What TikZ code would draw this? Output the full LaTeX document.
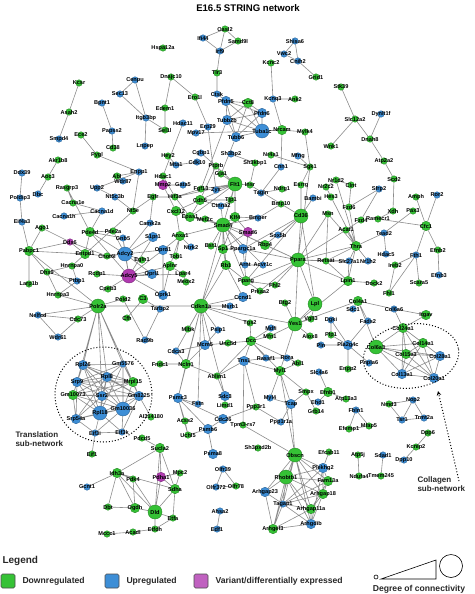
\documentclass[tikz,border=0pt]{standalone}
\usepackage{fontspec}
\setmainfont{Liberation Sans}
\usetikzlibrary{backgrounds}
\definecolor{dngreen}{HTML}{35C235}
\definecolor{upblue}{HTML}{3D8ED6}
\definecolor{varmag}{HTML}{B03AB0}
\definecolor{edgegray}{HTML}{8C8C8C}
\newcommand{\genefont}{\fontsize{5.6}{6}\selectfont\bfseries}
\tikzset{
  gene/.style={circle, inner sep=0pt, minimum size=6.5pt, line width=0.4pt},
  down/.style={gene, fill=dngreen, draw=dngreen!70!black},
  up/.style={gene, fill=upblue, draw=upblue!70!black},
  varx/.style={gene, fill=varmag, draw=varmag!70!black},
  mid/.style={minimum size=9.5pt},
  hub/.style={minimum size=14pt},
  lab/.style={font=\genefont, inner sep=0pt, text=black},
  edge/.style={draw=edgegray, line width=0.6pt},
  subnet/.style={dotted, line width=1pt},
  note/.style={font=\fontsize{8}{9}\selectfont\bfseries, align=left, text=black!85},
  legtext/.style={font=\fontsize{8.6}{9}\selectfont\bfseries, anchor=west, text=black!85},
  legbox/.style={rounded corners=1.5pt, minimum size=14pt, inner sep=0pt, draw=black!70, line width=0.6pt},
}
\begin{document}
\begin{tikzpicture}[x=1pt,y=-1pt]
\useasboundingbox (0,0) rectangle (474,594);
\node[font=\fontsize{9.6}{10}\selectfont\bfseries] (title) at (248,8) {E16.5 STRING network};

% top
\node[down, label={[lab]center:Hspa12a}] (hspa) at (163,48) {};
\node[down, label={[lab]center:Kcsr}] (kcsr) at (79,83) {};
\node[down, label={[lab]center:Asah2}] (asah) at (69,112) {};
\node[up, label={[lab]center:Smpd4}] (smpd) at (59,139) {};
\node[up, label={[lab]center:Cenpu}] (cenpu) at (135,80) {};
\node[up, label={[lab]center:Sec13}] (sec13) at (120,94) {};
\node[up, label={[lab]center:Bpnt1}] (bpnt) at (102,103) {};
\node[up, label={[lab]center:Itgb3bp}] (itgb) at (146,118) {};
\node[up, label={[lab]center:Papss2}] (papss) at (112,131) {};
\node[down, label={[lab]center:Ece2}] (ece2) at (81,135) {};
\node[down, label={[lab]center:Cd38}] (cd38) at (113,148) {};
\node[up, label={[lab]center:Lnpep}] (lnpep) at (145,146) {};
\node[down, label={[lab]center:Edem1}] (edem) at (165,108) {};
\node[down, label={[lab]center:Sel1l}] (sel1l) at (165,130) {};
\node[down, label={[lab]center:Dnajc10}] (dnajc) at (171,77) {};
\node[up, label={[lab]center:Hdac11}] (hdacel) at (183,123) {};
\node[up, label={[lab]center:Erp29}] (erp) at (208,127) {};
\node[up, label={[lab]center:Mpv17}] (mpv) at (196,133) {};
\node[down, label={[lab]center:Ero1l}] (ero) at (195,97) {};
\node[down, label={[lab]center:Oasl2}] (oasl) at (225,29) {};
\node[up, label={[lab]center:Ifi44}] (ifi) at (203,38) {};
\node[down, label={[lab]center:Samd9l}] (samd) at (238,41) {};
\node[up, label={[lab]center:Irf9}] (irf) at (220,51) {};
\node[down, label={[lab]center:Tlr3}] (tlr) at (217,73) {};
\node[up, label={[lab]center:Ctsk}] (ctsk) at (217,94) {};
\node[up, mid, label={[lab]center:Pfdn5}] (pfdnv) at (226,101) {};
\node[down, mid, label={[lab]center:Cct8}] (cct) at (248,103) {};
\node[up, mid, label={[lab]center:Pfdn6}] (pfdnvi) at (262,113) {};
\node[up, mid, label={[lab]center:Tubb2b}] (tubbb) at (227,120) {};
\node[up, hub, label={[lab]center:Tuba1c}] (tuba) at (262,131) {};
\node[up, mid, label={[lab]center:Tubb6}] (tubbvi) at (236,137) {};
\node[down, label={[lab]center:Kcnc2}] (kcnc) at (271,63) {};
\node[up, label={[lab]center:Kcnq3}] (kcnq) at (273,99) {};
\node[down, label={[lab]center:Ank2}] (ank) at (295,99) {};
\node[down, mid, label={[lab]center:Nrcam}] (nrcam) at (282,130) {};
\node[down, label={[lab]center:Mylk4}] (mylk) at (305,132) {};
\node[up, label={[lab]center:Shisa6}] (shisa) at (295,41) {};
\node[up, label={[lab]center:Vwc2}] (vwc) at (284,54) {};
\node[up, label={[lab]center:Cnih2}] (cnih) at (298,61) {};
\node[down, label={[lab]center:Grid1}] (grid) at (316,77) {};
\node[down, label={[lab]center:Stk39}] (stk) at (341,87) {};
\node[down, label={[lab]center:Slc12a2}] (slc) at (355,119) {};
\node[up, label={[lab]center:Dynlt1f}] (dynlt) at (381,114) {};
\node[down, label={[lab]center:Wnk1}] (wnk) at (331,146) {};
\node[down, label={[lab]center:Dnah8}] (dnah) at (370,139) {};

% left
\node[down, label={[lab]center:Pygl}] (pygl) at (97,155) {};
\node[down, label={[lab]center:Akr1b8}] (akr) at (58,160) {};
\node[up, label={[lab]center:Ddx39}] (ddxxxix) at (22,173) {};
\node[down, label={[lab]center:Aoc3}] (aoc) at (48,177) {};
\node[up, label={[lab]center:Dbc}] (dbc) at (38,194) {};
\node[up, label={[lab]center:Poldip3}] (poldip) at (20,198) {};
\node[down, label={[lab]center:Rasgrp3}] (rasgrp) at (67,188) {};
\node[up, label={[lab]center:Upp2}] (upp) at (97,188) {};
\node[down, label={[lab]center:Abl}] (abl) at (117,176) {};
\node[up, label={[lab]center:Wdr87}] (wdr) at (123,181) {};
\node[up, label={[lab]center:Enpp1}] (enpp) at (139,172) {};
\node[up, label={[lab]center:Nt5c3b}] (ntcb) at (115,197) {};
\node[down, label={[lab]center:Cacna1e}] (cacne) at (73,203) {};
\node[up, label={[lab]center:Cacna1h}] (cacnh) at (64,216) {};
\node[up, label={[lab]center:Cacna1d}] (cacnd) at (102,211) {};
\node[down, label={[lab]center:Nt5e}] (ntfe) at (133,211) {};
\node[up, label={[lab]center:Eif4a3}] (eif) at (22,222) {};
\node[down, label={[lab]center:Ago1}] (ago) at (42,228) {};
\node[down, mid, label={[lab]center:Pde4d}] (pdefd) at (90,232) {};
\node[down, label={[lab]center:Pde2a}] (pdeta) at (113,231) {};
\node[up, label={[lab]center:Gnb5}] (gnb) at (123,238) {};
\node[varx, label={[lab]center:Ddx6}] (ddxvi) at (70,242) {};
\node[down, mid, label={[lab]center:Pabpc1}] (pabp) at (29,251) {};
\node[down, mid, label={[lab]center:Entpd1}] (entpd) at (85,254) {};
\node[down, label={[lab]center:Cnot6l}] (cnot) at (107,256) {};
\node[up, hub, label={[lab]center:Adcy2}] (adcyb) at (125,254) {};
\node[down, label={[lab]center:Hnrnpa0}] (hnrnpz) at (72,266) {};
\node[down, label={[lab]center:Egln1}] (egln) at (142,260) {};
\node[varx, hub, label={[lab]center:Adcy5}] (adcyf) at (129,276) {};
\node[down, label={[lab]center:Rcdp1}] (rcdp) at (97,274) {};
\node[down, label={[lab]center:Dhx9}] (dhx) at (47,272) {};
\node[up, label={[lab]center:Ptbp1}] (ptbp) at (77,281) {};
\node[down, label={[lab]center:Larp1b}] (larp) at (29,284) {};
\node[down, label={[lab]center:Hnrnpa3}] (hnrnpc) at (58,295) {};
\node[down, label={[lab]center:Cpeb3}] (cpeb) at (108,289) {};
\node[up, mid, label={[lab]center:Oprl1}] (oprl) at (152,274) {};
\node[up, mid, label={[lab]center:S1pr1}] (sipr) at (153,237) {};
\node[up, label={[lab]center:Camk2a}] (camk) at (150,223) {};
\node[down, label={[lab]center:Egfr}] (egfr) at (153,197) {};

% centre
\node[down, label={[lab]center:Hey2}] (hey) at (168,156) {};
\node[up, label={[lab]center:Mta1}] (mta) at (176,165) {};
\node[up, label={[lab]center:Cdk10}] (cdkx) at (197,162) {};
\node[up, label={[lab]center:Cgbp1}] (cgbp) at (201,153) {};
\node[up, label={[lab]center:Sh3bp2}] (shbp) at (231,154) {};
\node[down, label={[lab]center:Ptprb}] (ptprb) at (216,166) {};
\node[down, label={[lab]center:Gja1}] (gja) at (221,174) {};
\node[down, hub, label={[lab]center:Flt1}] (flt) at (235,184) {};
\node[down, label={[lab]center:Insr}] (insr) at (250,185) {};
\node[down, label={[lab]center:Hdac1}] (hdacone) at (163,176) {};
\node[down, label={[lab]center:Sh3kbp1}] (shk) at (255,163) {};
\node[up, label={[lab]center:Cnn1}] (cnn) at (281,167) {};
\node[down, label={[lab]center:Nr4a1}] (nrfa) at (271,155) {};
\node[up, label={[lab]center:Mfng}] (mfng) at (298,156) {};
\node[down, label={[lab]center:Sgk1}] (sgk) at (310,167) {};
\node[down, label={[lab]center:Ndrg1}] (ndrg) at (282,189) {};
\node[up, label={[lab]center:Tagln}] (tagln) at (261,193) {};
\node[down, label={[lab]center:Esrrg}] (esrrg) at (301,185) {};
\node[up, label={[lab]center:Bambi}] (bambi) at (313,198) {};
\node[down, label={[lab]center:Fgf13}] (fgf) at (201,189) {};
\node[up, label={[lab]center:Zyx}] (zyx) at (216,190) {};
\node[down, label={[lab]center:Hif3a}] (hif) at (175,197) {};
\node[down, mid, label={[lab]center:Cdh5}] (cdh) at (200,200) {};
\node[down, label={[lab]center:Tjp1}] (tjp) at (231,200) {};
\node[up, label={[lab]center:Ctnna2}] (ctnna) at (221,206) {};
\node[down, label={[lab]center:Bmp10}] (bmpt) at (281,204) {};
\node[varx, mid, label={[lab]center:Mmp2}] (mmp) at (163,185) {};
\node[up, label={[lab]center:Gata5}] (gata) at (183,185) {};
\node[down, mid, label={[lab]center:Cxcl12}] (cxcl) at (176,211) {};
\node[down, mid, label={[lab]center:Epas1}] (epas) at (190,217) {};
\node[down, label={[lab]center:Mef2c}] (mef) at (205,219) {};
\node[down, mid, label={[lab]center:Klf4}] (klf) at (235,217) {};
\node[up, label={[lab]center:Bmper}] (bmpr) at (258,218) {};
\node[down, hub, label={[lab]center:Cd36}] (cdts) at (301,216) {};
\node[down, hub, label={[lab]center:Smad4}] (smadf) at (223,225) {};
\node[varx, mid, label={[lab]center:Smad6}] (smads) at (248,232) {};
\node[up, label={[lab]center:Sox5b}] (sox) at (278,235) {};
\node[down, mid, label={[lab]center:Anxa1}] (anxa) at (180,236) {};
\node[up, label={[lab]center:Ntrk2}] (ntrk) at (191,247) {};
\node[down, label={[lab]center:Bst1}] (bst) at (211,246) {};
\node[down, mid, label={[lab]center:Sp1}] (sp) at (223,249) {};
\node[up, mid, label={[lab]center:Ppargc1a}] (pgca) at (243,249) {};
\node[down, mid, label={[lab]center:Rbp4}] (rbp) at (265,245) {};
\node[up, mid, label={[lab]center:Oprd1}] (oprd) at (163,250) {};
\node[down, label={[lab]center:Tob1}] (tob) at (176,256) {};
\node[down, hub, label={[lab]center:Ppara}] (ppara) at (298,260) {};
\node[down, mid, label={[lab]center:Aplnr}] (aplnr) at (170,266) {};
\node[down, mid, label={[lab]center:Rb1}] (rb) at (226,265) {};
\node[up, label={[lab]center:Arnt}] (arnt) at (245,265) {};
\node[up, label={[lab]center:Acvr1c}] (acvr) at (263,265) {};
\node[down, label={[lab]center:Lpar4}] (lpar) at (183,274) {};
\node[down, label={[lab]center:Meox2}] (meox) at (186,282) {};
\node[down, mid, label={[lab]center:Pparg}] (pparg) at (246,281) {};
\node[down, label={[lab]center:Fhl2}] (fhlt) at (275,285) {};
\node[down, label={[lab]center:Prkaa2}] (prkaa) at (260,291) {};
\node[up, mid, label={[lab]center:Oprk1}] (oprk) at (163,295) {};
\node[up, mid, label={[lab]center:Ccnd1}] (ccnd) at (243,297) {};

% right
\node[down, label={[lab]center:Atp2a2}] (atp) at (384,161) {};
\node[down, label={[lab]center:Scd2}] (scd) at (394,179) {};
\node[down, label={[lab]center:Nr1d2}] (nrtd) at (336,180) {};
\node[down, label={[lab]center:Nr2c2}] (nrtc) at (326,187) {};
\node[down, label={[lab]center:Clnt}] (clnt) at (351,185) {};
\node[up, label={[lab]center:Sfrp2}] (sfrp) at (379,189) {};
\node[down, label={[lab]center:Hes3}] (hes) at (331,197) {};
\node[down, label={[lab]center:Amph}] (amph) at (416,197) {};
\node[up, label={[lab]center:Ror2}] (ror) at (437,195) {};
\node[down, label={[lab]center:Fzd6}] (fzdvi) at (349,207) {};
\node[down, label={[lab]center:Xdh}] (xdh) at (393,211) {};
\node[down, label={[lab]center:Pax3}] (pax) at (413,211) {};
\node[down, label={[lab]center:Msn}] (msn) at (328,214) {};
\node[down, label={[lab]center:Fzd4}] (fzdiv) at (361,220) {};
\node[down, label={[lab]center:Ramecr1}] (ram) at (378,219) {};
\node[down, mid, label={[lab]center:Cfc1}] (cfc) at (426,226) {};
\node[down, label={[lab]center:Acat1}] (acat) at (346,230) {};
\node[up, label={[lab]center:Tead2}] (tead) at (384,233) {};
\node[down, mid, label={[lab]center:Thra}] (thra) at (356,246) {};
\node[up, label={[lab]center:Hdac5}] (hdacv) at (386,254) {};
\node[up, label={[lab]center:Fth1}] (fth) at (416,255) {};
\node[down, label={[lab]center:Efnb2}] (efnbb) at (438,250) {};
\node[down, label={[lab]center:Retsat}] (retsat) at (326,261) {};
\node[up, label={[lab]center:Slc27a1}] (slcxx) at (349,261) {};
\node[up, label={[lab]center:Nr1h2}] (nrth) at (368,261) {};
\node[down, label={[lab]center:Ireb2}] (ireb) at (395,265) {};
\node[up, label={[lab]center:Efnb3}] (efnbc) at (439,275) {};
\node[down, mid, label={[lab]center:Lpin1}] (lpin) at (348,281) {};
\node[down, label={[lab]center:Dock2}] (dock) at (374,283) {};
\node[down, label={[lab]center:Scara5}] (scara) at (419,283) {};
\node[down, label={[lab]center:Fhl1}] (fhlo) at (389,293) {};

% translation sub-network
\node[down, hub, label={[lab]center:Polr2a}] (polr) at (98,306) {};
\node[down, label={[lab]center:Pold2}] (pold) at (123,299) {};
\node[down, mid, label={[lab]center:C3}] (cthree) at (143,299) {};
\node[down, label={[lab]center:Cfh}] (cfh) at (127,318) {};
\node[up, label={[lab]center:Tarbp2}] (tarbp) at (160,309) {};
\node[up, label={[lab]center:Rad9b}] (rad) at (145,340) {};
\node[up, label={[lab]center:Nelfcd}] (nelf) at (38,315) {};
\node[down, label={[lab]center:Cdc73}] (cdcst) at (78,319) {};
\node[up, label={[lab]center:Wdr61}] (wdrsi) at (58,337) {};
\node[up, mid, label={[lab]center:Rpl26}] (rplxxvi) at (83,365) {};
\node[up, label={[lab]center:Gm5576}] (gmff) at (123,364) {};
\node[up, mid, label={[lab]center:Rpl8}] (rplviii) at (107,377) {};
\node[up, mid, label={[lab]center:Srp9}] (srp) at (77,382) {};
\node[down, mid, label={[lab]center:Mrpl15}] (mrpl) at (133,382) {};
\node[down, mid, label={[lab]center:Gm10073}] (gmsev) at (73,395) {};
\node[up, mid, label={[lab]center:Ssr2}] (ssr) at (102,396) {};
\node[up, mid, label={[lab]center:Gm8225}] (gmeight) at (139,396) {};
\node[up, hub, label={[lab]center:Gm10036}] (gmsix) at (123,409) {};
\node[up, hub, label={[lab]center:Rpl18}] (rplxviii) at (100,413) {};
\node[up, mid, label={[lab]center:Srp54a}] (srpfour) at (76,419) {};
\node[up, label={[lab]center:Eif3i}] (eifi) at (95,433) {};
\node[up, label={[lab]center:Eif3k}] (eifk) at (122,432) {};
\node[down, label={[lab]center:Fndc1}] (fndc) at (160,364) {};
\node[down, label={[lab]center:AI314180}] (aigene) at (151,417) {};
\node[down, label={[lab]center:Pdcd5}] (pdcd) at (142,438) {};

% lower centre
\node[down, hub, label={[lab]center:Cdkn1a}] (cdkn) at (201,306) {};
\node[up, label={[lab]center:Msrb1}] (msrb) at (230,306) {};
\node[down, label={[lab]center:Btg2}] (btg) at (285,303) {};
\node[down, hub, label={[lab]center:Yes1}] (yes) at (295,324) {};
\node[down, hub, label={[lab]center:Lpl}] (lpl) at (315,304) {};
\node[down, label={[lab]center:Vgll3}] (vgll) at (311,319) {};
\node[down, label={[lab]center:Alox8}] (alox) at (310,336) {};
\node[down, label={[lab]center:Mlbk}] (mlbk) at (188,329) {};
\node[up, label={[lab]center:Psip1}] (psip) at (218,330) {};
\node[down, label={[lab]center:Tgs2}] (tgs) at (250,323) {};
\node[up, label={[lab]center:Mdfi}] (mdfi) at (271,328) {};
\node[down, label={[lab]center:Mfn1}] (mfn) at (270,336) {};
\node[up, mid, label={[lab]center:Mcm5}] (mcm) at (205,345) {};
\node[down, label={[lab]center:Unc5d}] (unc) at (228,343) {};
\node[down, mid, label={[lab]center:Dcc}] (dcc) at (251,341) {};
\node[up, label={[lab]center:Cdca3}] (cdca) at (176,351) {};
\node[up, label={[lab]center:Rassf1}] (rassf) at (266,358) {};
\node[up, label={[lab]center:Rora}] (rora) at (287,358) {};
\node[down, label={[lab]center:Abl1}] (ablone) at (298,363) {};
\node[down, mid, label={[lab]center:Ncln1}] (ncln) at (186,364) {};
\node[up, mid, label={[lab]center:Tns1}] (tns) at (244,361) {};
\node[down, label={[lab]center:Ablim1}] (ablim) at (217,376) {};
\node[down, mid, label={[lab]center:Myl1}] (mylone) at (280,371) {};
\node[down, label={[lab]center:Smpx}] (smpx) at (306,392) {};
\node[up, mid, label={[lab]center:Psmc3}] (psmc) at (178,398) {};
\node[up, label={[lab]center:Fstn}] (fstn) at (198,404) {};
\node[up, mid, label={[lab]center:Sdc3}] (sdc) at (225,396) {};
\node[down, label={[lab]center:Limd1}] (limd) at (225,405) {};
\node[down, label={[lab]center:Ppp3r1}] (ppptr) at (256,407) {};
\node[up, label={[lab]center:Myl4}] (mylfour) at (270,398) {};
\node[up, mid, label={[lab]center:Tcap}] (tcap) at (291,404) {};
\node[down, label={[lab]center:Grb14}] (grb) at (316,411) {};
\node[down, label={[lab]center:Acss2}] (acss) at (185,421) {};
\node[up, mid, label={[lab]center:Cdc26}] (cdcxx) at (223,419) {};
\node[up, label={[lab]center:Ppp1r1a}] (pppor) at (281,422) {};
\node[down, label={[lab]center:Tpm3-rs7}] (tpm) at (243,425) {};
\node[up, mid, label={[lab]center:Psmb6}] (psmb) at (208,429) {};
\node[down, label={[lab]center:Uchl5}] (uchl) at (188,435) {};

% collagen sub-network
\node[down, mid, label={[lab]center:Col4a1}] (colfour) at (358,301) {};
\node[up, label={[lab]center:Sdc1}] (sdcone) at (353,309) {};
\node[up, label={[lab]center:Col6a6}] (colsix) at (394,309) {};
\node[down, mid, label={[lab]center:Itgav}] (itgav) at (426,315) {};
\node[up, label={[lab]center:Dgki}] (dgki) at (331,320) {};
\node[up, label={[lab]center:Fads2}] (fads) at (368,321) {};
\node[down, mid, label={[lab]center:Col24a1}] (colxxiv) at (403,328) {};
\node[down, label={[lab]center:Plp1}] (plp) at (331,335) {};
\node[up, mid, label={[lab]center:Pla2g4c}] (pla) at (348,345) {};
\node[up, label={[lab]center:Pln}] (pln) at (321,345) {};
\node[down, hub, label={[lab]center:Col6a3}] (colvi) at (376,347) {};
\node[down, mid, label={[lab]center:Col14a1}] (colxiv) at (423,343) {};
\node[down, mid, label={[lab]center:Col15a1}] (colxv) at (406,354) {};
\node[up, mid, label={[lab]center:Col28a1}] (colxxviii) at (440,356) {};
\node[up, label={[lab]center:Pnpla6}] (pnpla) at (369,363) {};
\node[down, label={[lab]center:Enpp2}] (enpptwo) at (348,369) {};
\node[up, mid, label={[lab]center:Col13a1}] (colxiii) at (402,374) {};
\node[up, mid, label={[lab]center:Col20a1}] (colxx) at (434,378) {};
\node[down, mid, label={[lab]center:Efnb1}] (efnba) at (328,392) {};
\node[down, label={[lab]center:Atp13a3}] (atpxiii) at (346,399) {};
\node[up, label={[lab]center:Slc4a6}] (slcfour) at (319,372) {};
\node[up, label={[lab]center:Ehd1}] (ehd) at (318,402) {};
\node[down, label={[lab]center:Nmd3}] (nmd) at (389,404) {};
\node[up, label={[lab]center:Nop2}] (nop) at (413,400) {};
\node[up, label={[lab]center:Tsr1}] (tsr) at (402,420) {};
\node[up, label={[lab]center:Trmt2a}] (trmt) at (424,418) {};
\node[up, label={[lab]center:Fbln1}] (fbln) at (356,410) {};
\node[down, label={[lab]center:Efemp1}] (efemp) at (349,429) {};
\node[down, label={[lab]center:Mfap5}] (mfap) at (369,426) {};
\node[down, label={[lab]center:Dpp6}] (dppsix) at (428,433) {};

% bottom
\node[down, label={[lab]center:Kcnip2}] (kcnip) at (416,447) {};
\node[up, label={[lab]center:Dpp10}] (dppten) at (404,460) {};
\node[down, label={[lab]center:Efcab11}] (efcab) at (329,452) {};
\node[down, label={[lab]center:Atp5j}] (atpfive) at (358,455) {};
\node[up, label={[lab]center:Sdad1}] (sdad) at (383,455) {};
\node[down, label={[lab]center:Ndufa4}] (nduf) at (359,476) {};
\node[down, label={[lab]center:Tmem245}] (tmem) at (381,476) {};
\node[up, mid, label={[lab]center:Plekhg2}] (plekhg) at (323,468) {};
\node[down, mid, label={[lab]center:Fam13a}] (fam) at (328,481) {};
\node[down, mid, label={[lab]center:Arhgap18}] (gapxviii) at (323,494) {};
\node[down, mid, label={[lab]center:Arhgap11a}] (gapxi) at (311,509) {};
\node[up, mid, label={[lab]center:Arhgdib}] (gdib) at (311,524) {};
\node[down, hub, label={[lab]center:Obscn}] (obscn) at (295,455) {};
\node[down, hub, label={[lab]center:Rhobtb1}] (rhob) at (286,477) {};
\node[up, mid, label={[lab]center:Arhgap23}] (gapxxiii) at (265,492) {};
\node[up, label={[lab]center:Tagap1}] (tagap) at (283,504) {};
\node[down, mid, label={[lab]center:Arhgef3}] (gef) at (273,529) {};
\node[down, label={[lab]center:Sh3pxd2b}] (shpx) at (258,448) {};
\node[up, mid, label={[lab]center:Psma8}] (psma) at (213,454) {};
\node[up, label={[lab]center:Olfr39}] (olfa) at (223,469) {};
\node[up, label={[lab]center:Olfr372}] (olfb) at (216,487) {};
\node[down, label={[lab]center:Olfr78}] (olfc) at (236,486) {};
\node[up, label={[lab]center:Ahsa2}] (ahsa) at (220,511) {};
\node[up, label={[lab]center:Edf1}] (edf) at (217,529) {};
\node[down, mid, label={[lab]center:Sucla2}] (sucla) at (160,448) {};
\node[down, label={[lab]center:Mpc2}] (mpc) at (180,473) {};
\node[varx, mid, label={[lab]center:Pdha1}] (pdha) at (161,477) {};
\node[down, mid, label={[lab]center:Sdha}] (sdha) at (175,489) {};
\node[down, label={[lab]center:Eif1}] (eifone) at (92,454) {};
\node[down, mid, label={[lab]center:Idh3a}] (idh) at (117,473) {};
\node[down, label={[lab]center:Pdk4}] (pdk) at (133,479) {};
\node[up, label={[lab]center:Gcnt1}] (gcnt) at (87,487) {};
\node[down, label={[lab]center:Dbt}] (dbt) at (108,507) {};
\node[down, mid, label={[lab]center:Ogdh}] (ogdh) at (135,508) {};
\node[down, hub, label={[lab]center:Dld}] (dld) at (155,512) {};
\node[down, label={[lab]center:Etfa}] (etfa) at (173,518) {};
\node[down, label={[lab]center:Etfdh}] (etfdh) at (155,529) {};
\node[down, label={[lab]center:Acadl}] (acadl) at (133,532) {};
\node[down, label={[lab]center:Mccc1}] (mccc) at (107,534) {};

% connectors
\begin{scope}[on background layer]
\draw[edge] (kcsr) -- (asah) (asah) -- (smpd) (cenpu) -- (sec13) (cenpu) -- (itgb) (sec13) -- (itgb)
  (bpnt) -- (papss) (papss) -- (cd38) (itgb) -- (sel1l) (ece2) -- (pygl) (lnpep) -- (itgb)
  (dnajc) -- (ero) (dnajc) -- (edem) (edem) -- (sel1l) (ero) -- (erp) (mpv) -- (tuba)
  (hdacel) -- (hdacone) (oasl) -- (ifi) (oasl) -- (samd) (oasl) -- (irf) (ifi) -- (irf)
  (samd) -- (irf) (irf) -- (tlr) (tlr) -- (ctsk) (ctsk) -- (pfdnv);
\draw[edge] (pfdnv) -- (cct) (pfdnv) -- (pfdnvi) (pfdnv) -- (tubbb) (pfdnv) -- (tuba) (pfdnv) -- (tubbvi)
  (cct) -- (pfdnvi) (cct) -- (tubbb) (cct) -- (tuba) (cct) -- (tubbvi) (pfdnvi) -- (tubbb)
  (pfdnvi) -- (tuba) (pfdnvi) -- (tubbvi) (tubbb) -- (tuba) (tubbb) -- (tubbvi) (tuba) -- (tubbvi)
  (tuba) -- (nrcam) (kcnc) -- (kcnq) (kcnq) -- (ank) (kcnq) -- (nrcam) (nrcam) -- (mylk)
  (shisa) -- (vwc) (shisa) -- (cnih) (vwc) -- (cnih) (cnih) -- (grid)
  (stk) -- (slc) (slc) -- (wnk) (slc) -- (dnah) (dynlt) -- (dnah) (dnah) -- (atp) (atp) -- (scd)
  (tubbvi) -- (gja) (tubbb) -- (fgf) (erp) -- (zyx) (nrcam) -- (cnn) (mylk) -- (sgk);
\draw[edge] (ddxxxix) -- (poldip) (poldip) -- (eif) (eif) -- (pabp) (akr) -- (aoc) (aoc) -- (dbc)
  (pabp) -- (ago) (pabp) -- (ddxvi) (pabp) -- (larp) (pabp) -- (dhx) (pabp) -- (entpd)
  (ago) -- (ddxvi) (ddxvi) -- (entpd) (ddxvi) -- (cnot) (entpd) -- (ntfe) (entpd) -- (cnot)
  (entpd) -- (hnrnpz) (hnrnpz) -- (dhx) (hnrnpz) -- (ptbp) (dhx) -- (ptbp) (dhx) -- (hnrnpc)
  (ptbp) -- (hnrnpc) (hnrnpc) -- (polr) (rasgrp) -- (cacne) (rasgrp) -- (pdefd) (cacne) -- (cacnd)
  (cacnh) -- (cacnd) (cacnd) -- (pdefd) (pdefd) -- (pdeta) (pdefd) -- (adcyb) (pdefd) -- (adcyf)
  (pdefd) -- (gnb) (pdefd) -- (entpd) (pdeta) -- (adcyb) (gnb) -- (adcyb) (gnb) -- (adcyf)
  (adcyb) -- (adcyf) (adcyb) -- (sipr) (adcyb) -- (camk) (adcyb) -- (egln) (adcyb) -- (oprd)
  (adcyb) -- (oprl) (adcyf) -- (oprl) (adcyf) -- (oprk) (adcyf) -- (oprd) (adcyf) -- (aplnr)
  (adcyf) -- (lpar) (adcyf) -- (sipr) (adcyf) -- (rcdp) (adcyf) -- (cpeb) (cnot) -- (adcyb)
  (ntcb) -- (ntfe) (ntcb) -- (upp) (enpp) -- (ntfe) (enpp) -- (pygl) (enpp) -- (upp)
  (enpp) -- (abl) (wdr) -- (abl) (egfr) -- (ntfe) (camk) -- (egfr) (egfr) -- (hif);
\draw[edge] (flt) -- (ptprb) (flt) -- (gja) (flt) -- (insr) (flt) -- (cdh) (flt) -- (fgf) (flt) -- (klf)
  (flt) -- (epas) (flt) -- (hif) (flt) -- (tjp) (flt) -- (smadf) (flt) -- (cxcl) (flt) -- (zyx)
  (gja) -- (ptprb) (ptprb) -- (cdh) (cdh) -- (epas) (cdh) -- (tjp) (cdh) -- (ctnna) (tjp) -- (ctnna)
  (fgf) -- (hif) (smadf) -- (smads) (smadf) -- (sp) (smadf) -- (klf) (smadf) -- (mef) (smadf) -- (epas)
  (smadf) -- (anxa) (smadf) -- (rb) (smadf) -- (pgca) (smadf) -- (bmpr) (smadf) -- (ctnna)
  (smadf) -- (cdkn) (smadf) -- (ppara) (smadf) -- (rbp) (smadf) -- (acvr) (smadf) -- (bst)
  (smadf) -- (pparg) (klf) -- (sp) (klf) -- (smads) (klf) -- (bmpr) (sp) -- (cdkn) (sp) -- (rb)
  (sp) -- (pgca) (sp) -- (smads) (cdts) -- (ppara) (cdts) -- (bambi) (cdts) -- (esrrg) (cdts) -- (lpl)
  (cdts) -- (pparg) (cdts) -- (pgca) (cdts) -- (rbp) (cdts) -- (insr) (cdts) -- (sox)
  (ppara) -- (lpl) (ppara) -- (retsat) (ppara) -- (slcxx) (ppara) -- (lpin) (ppara) -- (thra)
  (ppara) -- (acat) (ppara) -- (pgca) (ppara) -- (pparg) (ppara) -- (rbp) (ppara) -- (fhlt)
  (ppara) -- (prkaa) (ppara) -- (yes) (ppara) -- (sgk) (ppara) -- (msn) (pparg) -- (pgca)
  (pparg) -- (rb) (pparg) -- (prkaa) (pparg) -- (fhlt) (rb) -- (cdkn) (rb) -- (ccnd) (ccnd) -- (cdkn)
  (anxa) -- (cxcl) (anxa) -- (tob) (anxa) -- (aplnr) (anxa) -- (oprd) (oprd) -- (oprk) (oprk) -- (aplnr)
  (aplnr) -- (lpar) (lpar) -- (meox) (mmp) -- (hdacone) (mmp) -- (gata) (mmp) -- (cxcl) (cxcl) -- (epas)
  (epas) -- (hif) (hif) -- (hdacone) (mef) -- (epas) (bmpr) -- (bmpt) (bmpt) -- (cdts) (cnn) -- (tagln)
  (tagln) -- (ndrg) (hey) -- (mta) (mta) -- (cdkx) (cgbp) -- (ptprb) (shbp) -- (shk) (shk) -- (insr)
  (nrfa) -- (sgk) (mfng) -- (sgk) (sgk) -- (esrrg) (ntrk) -- (anxa) (arnt) -- (acvr) (smads) -- (arnt);
\draw[edge] (thra) -- (msn) (thra) -- (hes) (thra) -- (fzdvi) (thra) -- (acat) (thra) -- (tead)
  (thra) -- (lpin) (thra) -- (retsat) (thra) -- (nrtd) (thra) -- (nrtc) (thra) -- (slcxx) (thra) -- (nrth)
  (nrtd) -- (nrtc) (nrtd) -- (clnt) (nrtc) -- (hes) (clnt) -- (fzdvi) (sfrp) -- (fzdvi) (sfrp) -- (fzdiv)
  (ram) -- (xdh) (fzdiv) -- (acat) (ram) -- (cfc) (scd) -- (xdh) (pax) -- (tead) (amph) -- (cfc)
  (ror) -- (cfc) (cfc) -- (efnbb) (efnbb) -- (efnbc) (cfc) -- (fth) (fth) -- (scara) (fth) -- (ireb)
  (fth) -- (fhlo) (ireb) -- (fhlo) (hdacv) -- (tead) (lpin) -- (dock) (lpin) -- (retsat) (lpin) -- (slcxx)
  (slcxx) -- (retsat) (lpin) -- (yes) (msn) -- (retsat);
\draw[edge] (nelf) -- (cdcst) (nelf) -- (wdrsi) (cdcst) -- (wdrsi) (cdcst) -- (polr) (nelf) -- (polr)
  (polr) -- (pold) (polr) -- (pabp) (polr) -- (cdkn) (polr) -- (rplxxvi) (polr) -- (rplviii)
  (polr) -- (gmff) (polr) -- (mrpl) (polr) -- (ssr) (polr) -- (srp) (cthree) -- (cfh) (pold) -- (rad)
  (cthree) -- (tarbp) (rad) -- (tarbp) (fndc) -- (ncln) (aigene) -- (gmeight) (pdcd) -- (sucla)
  (rplxxvi) -- (gmff) (rplxxvi) -- (rplviii) (rplxxvi) -- (srp) (rplxxvi) -- (gmsev) (rplxxvi) -- (ssr)
  (rplxxvi) -- (gmeight) (rplxxvi) -- (gmsix) (rplxxvi) -- (rplxviii) (rplxxvi) -- (mrpl)
  (gmff) -- (rplviii) (gmff) -- (mrpl) (gmff) -- (gmeight) (gmff) -- (gmsix) (gmff) -- (srp) (gmff) -- (rplxviii)
  (rplviii) -- (srp) (rplviii) -- (mrpl) (rplviii) -- (gmsev) (rplviii) -- (ssr) (rplviii) -- (gmeight)
  (rplviii) -- (gmsix) (rplviii) -- (rplxviii) (rplviii) -- (srpfour) (srp) -- (gmsev) (srp) -- (ssr)
  (srp) -- (mrpl) (srp) -- (rplxviii) (srp) -- (srpfour) (srp) -- (gmeight) (mrpl) -- (gmeight)
  (mrpl) -- (gmsix) (mrpl) -- (ssr) (mrpl) -- (gmsev) (gmsev) -- (ssr) (gmsev) -- (gmeight)
  (gmsev) -- (rplxviii) (gmsev) -- (srpfour) (gmsev) -- (gmsix) (ssr) -- (gmeight) (ssr) -- (gmsix)
  (ssr) -- (rplxviii) (ssr) -- (srpfour) (gmeight) -- (gmsix) (gmeight) -- (rplxviii) (gmeight) -- (eifk)
  (gmsix) -- (rplxviii) (gmsix) -- (srpfour) (gmsix) -- (eifi) (gmsix) -- (eifk) (rplxviii) -- (srpfour)
  (rplxviii) -- (eifi) (rplxviii) -- (eifk) (srpfour) -- (eifi) (eifi) -- (eifk) (eifi) -- (eifone);
\draw[edge] (cdkn) -- (mcm) (cdkn) -- (ncln) (cdkn) -- (psip) (cdkn) -- (msrb) (cdkn) -- (mlbk)
  (cdkn) -- (cdca) (cdkn) -- (psmc) (cdkn) -- (tgs) (cdkn) -- (fstn) (cdkn) -- (yes) (cdkn) -- (sdc)
  (mcm) -- (cdca) (mcm) -- (psip) (mcm) -- (ncln) (mcm) -- (unc) (dcc) -- (unc) (dcc) -- (tns)
  (dcc) -- (mfn) (dcc) -- (rassf) (dcc) -- (ablim) (dcc) -- (mylone) (dcc) -- (mdfi) (dcc) -- (ablone)
  (yes) -- (lpl) (yes) -- (btg) (yes) -- (alox) (yes) -- (mfn) (yes) -- (vgll) (yes) -- (mylone)
  (yes) -- (colfour) (lpl) -- (vgll) (mylone) -- (tcap) (mylone) -- (mylfour) (mylone) -- (smpx)
  (mylone) -- (obscn) (mylone) -- (tns) (mylone) -- (ablone) (tcap) -- (mylfour) (tcap) -- (pppor)
  (tcap) -- (obscn) (tcap) -- (smpx) (tns) -- (ppptr) (tns) -- (tpm) (tns) -- (rassf) (tns) -- (ablim)
  (ppptr) -- (pppor) (ppptr) -- (cdcxx) (psmc) -- (psmb) (psmc) -- (acss) (psmc) -- (uchl)
  (psmc) -- (ncln) (psmc) -- (fstn) (psmc) -- (cdcxx) (cdcxx) -- (psmb) (psmb) -- (psma)
  (uchl) -- (psmb) (sdc) -- (limd) (sdc) -- (ablim) (ncln) -- (cdca) (ncln) -- (ablim) (acss) -- (uchl)
  (rassf) -- (rora) (tgs) -- (dcc) (smpx) -- (grb) (tpm) -- (obscn);
\draw[edge] (colvi) -- (colxxiv) (colvi) -- (colxiv) (colvi) -- (colxv) (colvi) -- (colxxviii)
  (colvi) -- (colxiii) (colvi) -- (colxx) (colxxiv) -- (colxiv) (colxxiv) -- (colxv) (colxxiv) -- (colxxviii)
  (colxxiv) -- (colxiii) (colxxiv) -- (colxx) (colxiv) -- (colxv) (colxiv) -- (colxxviii) (colxiv) -- (colxiii)
  (colxiv) -- (colxx) (colxv) -- (colxxviii) (colxv) -- (colxiii) (colxv) -- (colxx) (colxxviii) -- (colxiii)
  (colxxviii) -- (colxx) (colxiii) -- (colxx) (colxxiv) -- (colsix) (colsix) -- (itgav) (colfour) -- (colsix)
  (colfour) -- (sdcone) (colfour) -- (fads) (colfour) -- (colvi) (fads) -- (pla) (pla) -- (dgki)
  (pla) -- (plp) (pla) -- (pln) (pla) -- (enpptwo) (pla) -- (pnpla) (plp) -- (dgki) (itgav) -- (colxxiv)
  (efnba) -- (atpxiii) (efnba) -- (slcfour) (efnba) -- (ehd) (nmd) -- (nop) (nmd) -- (tsr) (nop) -- (tsr)
  (nop) -- (trmt) (tsr) -- (trmt) (fbln) -- (efemp) (fbln) -- (mfap) (efemp) -- (mfap)
  (dppsix) -- (kcnip) (kcnip) -- (dppten) (atpfive) -- (nduf) (sdad) -- (tmem);
\draw[edge] (obscn) -- (rhob) (obscn) -- (plekhg) (obscn) -- (gapxxiii) (obscn) -- (tagap) (obscn) -- (gef)
  (obscn) -- (fam) (obscn) -- (gapxviii) (obscn) -- (gapxi) (obscn) -- (gdib) (rhob) -- (plekhg)
  (rhob) -- (gapxxiii) (rhob) -- (tagap) (rhob) -- (gef) (rhob) -- (fam) (rhob) -- (gapxviii)
  (rhob) -- (gapxi) (rhob) -- (gdib) (plekhg) -- (fam) (plekhg) -- (gapxviii) (plekhg) -- (tagap)
  (plekhg) -- (gdib) (fam) -- (gapxviii) (fam) -- (gapxi) (fam) -- (tagap) (gapxviii) -- (gapxi)
  (gapxviii) -- (gdib) (gapxviii) -- (tagap) (gapxi) -- (gdib) (gapxi) -- (tagap) (gapxi) -- (gef)
  (gdib) -- (gef) (gdib) -- (tagap) (tagap) -- (gef) (gapxxiii) -- (gef) (gapxxiii) -- (tagap)
  (efcab) -- (plekhg) (olfa) -- (olfb) (olfa) -- (olfc) (olfb) -- (olfc) (ahsa) -- (edf);
\draw[edge] (sucla) -- (idh) (sucla) -- (sdha) (sucla) -- (pdha) (sucla) -- (dld) (mpc) -- (pdha)
  (mpc) -- (sdha) (pdha) -- (sdha) (pdha) -- (dld) (sdha) -- (dld) (sdha) -- (etfa) (idh) -- (pdk)
  (idh) -- (ogdh) (idh) -- (dld) (idh) -- (dbt) (idh) -- (gcnt) (idh) -- (sdha) (pdk) -- (dld)
  (pdk) -- (ogdh) (dbt) -- (ogdh) (ogdh) -- (dld) (dld) -- (etfa) (etfa) -- (etfdh) (etfdh) -- (acadl)
  (acadl) -- (mccc) (dld) -- (etfdh) (idh) -- (sucla);
\end{scope}

% sub-network outlines
\draw[subnet] (103.5,394.5) ellipse [x radius=48.5, y radius=47.5];
\draw[subnet, rotate around={8:(411,356)}] (411,356) ellipse [x radius=48, y radius=32];
\coordinate (collagen tail) at (459,481);
\coordinate (collagen head) at (438,391);
\draw[dotted, line width=1pt, ->, >=stealth] (collagen tail) -- (collagen head);
\node[note, anchor=north west] (translation note) at (12,428) {Translation\\sub-network};
\node[note, anchor=north west] (collagen note) at (414,473) {Collagen\\sub-network};

% legend
\node[font=\fontsize{10}{11}\selectfont\bfseries, anchor=west, text=black!85] (legend) at (-1,561) {Legend};
\node[legbox, fill=dngreen] (key down) at (8,581) {};
\node[legtext] at (19,581) {Downregulated};
\node[legbox, fill=upblue] (key up) at (112,581) {};
\node[legtext] at (123,581) {Upregulated};
\node[legbox, fill=varmag!80] (key var) at (201,581) {};
\node[legtext] at (212,581) {Variant/differentially expressed};
\node[circle, draw, inner sep=0pt, minimum size=4pt, line width=0.6pt] (small dot) at (376,577) {};
\draw[line width=0.6pt] (381,579) -- (436,560) -- (436,579) -- cycle;
\node[circle, draw, inner sep=0pt, minimum size=23pt, line width=0.6pt] (big dot) at (451,566) {};
\node[font=\fontsize{8.6}{9}\selectfont\bfseries, text=black!85] (degree) at (419,589) {Degree of connectivity};
\end{tikzpicture}
\end{document}
